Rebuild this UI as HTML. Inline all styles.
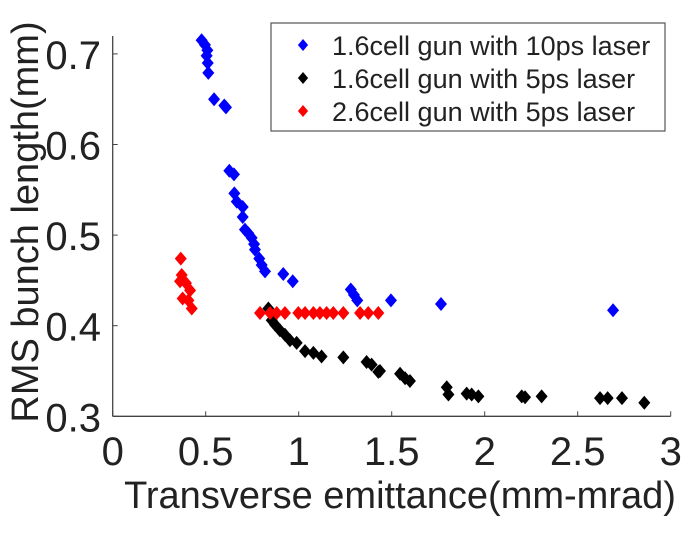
<!DOCTYPE html>
<html><head><meta charset="utf-8"><style>
body{margin:0;background:#fff;}
svg text{font-family:"Liberation Sans",Arial,sans-serif;fill:#222;}
</style></head><body>
<svg width="685" height="531" viewBox="0 0 685 531">
<g id="axes"></g>
<g id="marks"></g>
<g id="legend"></g>
</svg>
<script>
const xTicks=[0,0.5,1,1.5,2,2.5,3];
const yTicks=[0.3,0.4,0.5,0.6,0.7];
const blueX=[0.478,0.496,0.509,0.505,0.511,0.514,0.545,0.600,0.609,0.627,0.652,0.654,0.667,0.699,0.699,0.711,0.729,0.747,0.760,0.765,0.788,0.801,0.819,0.917,0.968,1.280,1.297,1.315,1.496,1.765,2.690];
const blueY=[0.715,0.710,0.704,0.698,0.690,0.679,0.650,0.643,0.641,0.571,0.567,0.546,0.537,0.531,0.520,0.506,0.502,0.497,0.490,0.484,0.474,0.467,0.460,0.457,0.449,0.440,0.434,0.428,0.428,0.424,0.417];
const blackX=[0.837,0.855,0.873,0.899,0.926,0.953,0.989,1.034,1.079,1.123,1.240,1.365,1.392,1.428,1.437,1.545,1.572,1.598,1.796,1.805,1.903,1.930,1.966,2.199,2.217,2.306,2.620,2.661,2.738,2.858];
const blackY=[0.419,0.406,0.401,0.395,0.390,0.384,0.381,0.372,0.370,0.366,0.365,0.360,0.357,0.349,0.350,0.347,0.342,0.339,0.332,0.324,0.325,0.324,0.322,0.322,0.321,0.322,0.320,0.320,0.320,0.315];
const redX=[0.366,0.371,0.362,0.394,0.416,0.376,0.407,0.425,0.792,0.846,0.882,0.926,0.998,1.034,1.079,1.114,1.150,1.186,1.240,1.330,1.374,1.428];
const redY=[0.474,0.456,0.449,0.447,0.439,0.430,0.428,0.419,0.414,0.414,0.414,0.414,0.414,0.414,0.414,0.414,0.414,0.414,0.414,0.414,0.414,0.414];
const legendLabels=["1.6cell gun with 10ps laser","1.6cell gun with 5ps laser","2.6cell gun with 5ps laser"];
const NS="http://www.w3.org/2000/svg";
const X0=112.7,XS=186,Y0=416.3,YS=906;
const sx=v=>X0+v*XS, sy=v=>Y0-(v-0.3)*YS;
function mk(t,a,p){const e=document.createElementNS(NS,t);for(const k in a)e.setAttribute(k,a[k]);p.appendChild(e);return e;}
const ax=document.getElementById('axes');
let l=mk('line',{x1:X0,y1:Y0,x2:sx(3),y2:Y0,stroke:'#444','stroke-width':1.3},ax);


l=mk('line',{x1:X0,y1:Y0,x2:X0,y2:36,stroke:'#444','stroke-width':1.3},ax);


xTicks.forEach(v=>{
 let t=mk('line',{x1:sx(v),y1:Y0,x2:sx(v),y2:Y0-5,stroke:'#444'},ax);
 
 
 let tx=mk('text',{x:sx(v),y:465,'text-anchor':'middle','font-size':40},ax);tx.textContent=v;
 
 
});
yTicks.forEach(v=>{
 let t=mk('line',{x1:X0,y1:sy(v),x2:X0+5,y2:sy(v),stroke:'#444'},ax);
 
 
 let tx=mk('text',{x:101,y:sy(v)+15,'text-anchor':'end','font-size':40},ax);tx.textContent=v.toFixed(1);
 
 
});
let xt=mk('text',{x:400,y:508,'text-anchor':'middle','font-size':38},ax);xt.textContent='Transverse emittance(mm-mrad)';


let yt=mk('text',{x:0,y:0,'text-anchor':'middle','font-size':38,transform:'translate(38,222) rotate(-90)'},ax);yt.textContent='RMS bunch length(mm)';


const mg=document.getElementById('marks');
function dia(cx,cy,c,p,s){s=s||1;return mk('polygon',{points:`${cx},${cy-7*s} ${cx+6*s},${cy} ${cx},${cy+7*s} ${cx-6*s},${cy}`,fill:c},p);}
[[blueX,blueY,'#0000ff','blue'],[blackX,blackY,'#000','black'],[redX,redY,'#ff0000','red']].forEach(([xs,ys,c,n])=>{
 xs.forEach((v,i)=>{const d=dia(sx(v),sy(ys[i]),c,mg);
  
  });
});
const lg=document.getElementById('legend');
let b=mk('rect',{x:271,y:23,width:394,height:108,fill:'#fff',stroke:'#555','stroke-width':1.2},lg);


['#0000ff','#000','#ff0000'].forEach((c,i)=>{
 const y=45+i*33;
 const d=dia(303,y,c,lg,0.85);
 
 
 const t=mk('text',{x:332,y:y+10,'font-size':27},lg);t.textContent=legendLabels[i];
 
 
});
</script>
</body></html>
